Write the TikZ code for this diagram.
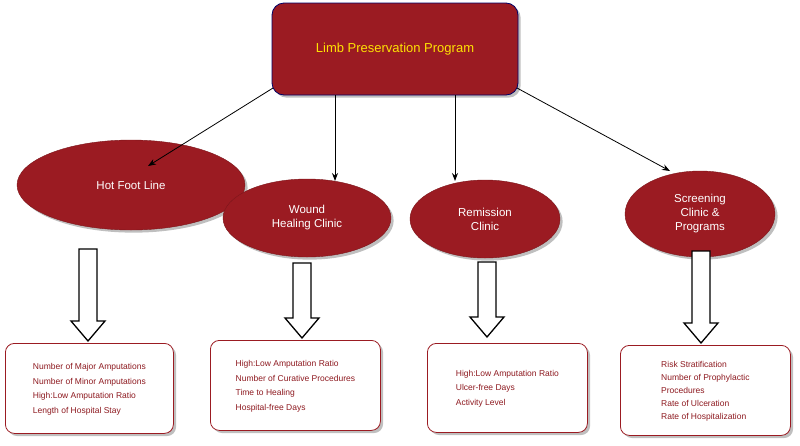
\documentclass[tikz,border=0pt]{standalone}
\usepackage{fontspec}
\setmainfont{Liberation Sans}
\usetikzlibrary{shapes.geometric,shadows,arrows.meta}
\definecolor{dred}{HTML}{9B1B22}
\definecolor{tred}{HTML}{8E1A20}
\begin{document}
\begin{tikzpicture}[x=1pt,y=-1pt,
 ell/.style={ellipse,fill=dred,draw=dred!80!black,drop shadow,text=white,font=\fontsize{11.5}{14}\selectfont,align=center,inner sep=0},
 blk/.style={draw=black,fill=white,line width=1.3pt,line join=miter},
 box/.style={rounded corners=9,draw=dred,thick,fill=white,drop shadow,text=tred,font=\fontsize{8.5}{14.5}\selectfont,align=left,anchor=north west,inner xsep=14,inner ysep=9,text depth=0},
 con/.style={-{Stealth[length=8,width=6]},black,thick}]
\useasboundingbox (0,0) rectangle (800,445);
\node[fill=dred,draw=blue!40!black,thick,rounded corners=12,minimum width=246,minimum height=92,text=yellow!85!orange,font=\fontsize{13}{15}\selectfont,drop shadow] (top) at (395,49) {Limb Preservation Program};
\node[ell,minimum width=228,minimum height=90] (e1) at (131,185) {Hot Foot Line};
\node[ell,minimum width=168,minimum height=78] (e2) at (307,218) {Wound\\Healing Clinic};
\node[ell,minimum width=150,minimum height=78] (e3) at (485,219) {Remission\\Clinic};
\node[ell,minimum width=150,minimum height=86] (e4) at (700,214) {Screening\\Clinic \&\\Programs};
\coordinate (t1) at (273,88); \coordinate (t4) at (517,88);
\coordinate (t2) at (335,95); \coordinate (t3) at (455,95);
\draw[con] (t1) -- (148,166);
\draw[con] (t2) -- (335,181);
\draw[con] (t3) -- (455,181);
\draw[con] (t4) -- (670,171);
\node[box,minimum width=168,minimum height=90] (b1) at (5,343) {Number of Major Amputations\\Number of Minor Amputations\\High:Low Amputation Ratio\\Length of Hospital Stay};
\node[box,minimum width=170,minimum height=90] (b2) at (210,340) {High:Low Amputation Ratio\\Number of Curative Procedures\\Time to Healing\\Hospital-free Days};
\node[box,minimum width=160,minimum height=89] (b3) at (427,343) {High:Low Amputation Ratio\\Ulcer-free Days\\Activity Level};
\node[box,minimum width=170,minimum height=90,font=\fontsize{8.5}{13}\selectfont] (b4) at (620,345) {Risk Stratification\\Number of Prophylactic\\Procedures\\Rate of Ulceration\\Rate of Hospitalization};
\foreach \n/\cx/\ya/\yb in {1/88/249/341, 2/302/263/338, 3/487/262/337, 4/701/251/343}{
  \draw[blk] (\cx-9,\ya) -- (\cx+9,\ya) -- (\cx+9,\yb-20) -- (\cx+17,\yb-20) -- (\cx,\yb) -- (\cx-17,\yb-20) -- (\cx-9,\yb-20) -- cycle;
}
\end{tikzpicture}
\end{document}
